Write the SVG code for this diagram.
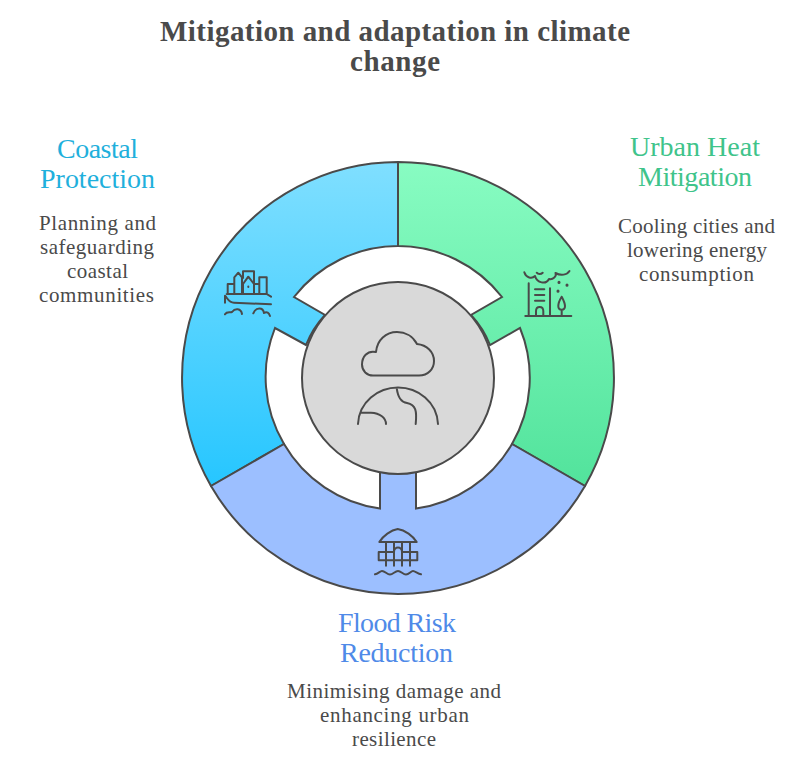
<svg xmlns="http://www.w3.org/2000/svg" width="786" height="772" viewBox="0 0 786 772">
<style>
.seg{stroke:#4a4a4a;stroke-width:2;stroke-linejoin:miter}
.ic{fill:none;stroke:#4a4a4a;stroke-width:2;stroke-linecap:round;stroke-linejoin:round}
text{font-family:"Liberation Serif","DejaVu Serif",serif;text-anchor:middle}
.t{font-size:29px;font-weight:700;fill:#4a4a4a}
.h{font-size:28px}
.b{font-size:21px;fill:#4a4a4a}
</style>
<defs>
<linearGradient id="gc" x1="0" y1="0" x2="0" y2="1"><stop offset="0" stop-color="#80dfff"/><stop offset="1" stop-color="#26c6ff"/></linearGradient>
<linearGradient id="gg" x1="0" y1="0" x2="0" y2="1"><stop offset="0" stop-color="#88fcc2"/><stop offset="1" stop-color="#52e39c"/></linearGradient>
</defs>
<rect width="786" height="772" fill="#fff"/>
<text class="t" x="395" y="41" textLength="470">Mitigation and adaptation in climate</text>
<text class="t" x="395" y="71" textLength="90">change</text>
<g id="connectors"></g>
<g id="coastal">
<path class="seg" fill="url(#gc)" d="M211 486A216 216 0 0 1 398 162V246A132 132 0 0 0 294 297L325 315A96 96 0 0 0 306 345L275 328A132 132 0 0 0 284 444Z"/>
<g class="ic">
<path d="M227.7 293.3V284H234.3M234.3 293.3V277.3L238.3 272.7L242 277.3V293.3M243 293.3V284L248.3 276.7L254 284V293.3M243 278V271.3H254V284M254 284H259.3M259.3 293.3V277.3H266.7V293.3M226.7 294H266.7L271 296.7"/>
<path d="M225 302.7V295.7C228 299 229 302.7 234 302.7L271 304.3"/>
<path d="M225 314.3C227 311 230 313 232 312C235 308 241 308 242 314M253.3 313.3C256 307 263 307 264 313C267 311 269 313 270 316"/>
<path d="M248.3 286.5v.5"/>
</g>
<text class="h" x="97.5" y="158" fill="#1fb0dc" textLength="81">Coastal</text>
<text class="h" x="97.5" y="188" fill="#1fb0dc" textLength="115">Protection</text>
<text class="b" x="97.5" y="230" textLength="117">Planning and</text>
<text class="b" x="97" y="254" textLength="114">safeguarding</text>
<text class="b" x="97.5" y="278" textLength="61">coastal</text>
<text class="b" x="96.5" y="302" textLength="115">communities</text>
</g>
<g id="urban">
<path class="seg" fill="url(#gg)" d="M398 162A216 216 0 0 1 585 486L512 444A132 132 0 0 0 520 328L490 345A96 96 0 0 0 471 315L502 297A132 132 0 0 0 398 246Z"/>
<g class="ic">
<path d="M525.3 316H571.3M528.7 283.3V316M550 288.3V316M536 316V311C536 305.5 543.3 305.5 543.3 311V316M535 289.3H544.3M535 295H544.3M535 300.7H544.3M561.7 316V310M561.7 296.7C559 301 558.3 304 558.3 306C558.3 311 565 311 565 306C565 304 564 301 561.7 296.7Z"/>
<path d="M524.3 272.3C526 278 532 279 535 276C537 283 546 285 549 279C553 280 557 276 555.5 273C561 276 567 275 569.5 271M536.7 272.7C538 274.5 541 274.5 542.7 272.7"/>
<path d="M559 282.3v.2M567 285v.2M558 291v.2" stroke-width="3"/>
</g>
<text class="h" x="695" y="156" fill="#3fc48b" textLength="130">Urban Heat</text>
<text class="h" x="695" y="186" fill="#3fc48b" textLength="114">Mitigation</text>
<text class="b" x="696.5" y="233" textLength="157">Cooling cities and</text>
<text class="b" x="697" y="257" textLength="140">lowering energy</text>
<text class="b" x="696.5" y="281" textLength="115">consumption</text>
</g>
<g id="flood">
<path class="seg" fill="#9cbfff" d="M585 486A216 216 0 0 1 211 486L284 444A132 132 0 0 0 380 508.5V472H416V508.5A132 132 0 0 0 512 444Z"/>
<g class="ic">
<path d="M379.3 542H416.7C413 536 405 530 397.7 529C391 530 383 536 379.3 542ZM386 542V565.7M394 542V565.7M402 542V565.7M410 542V565.7M378.7 552H394M402 552H417.3V560.3H402M394 560.3H378.7V552M394 560.3H402M394 552C394 546 402 546 402 552"/>
<path d="M375 574.3C378 574 380 571 382 571C385 571 387 574.5 390 574.5C393 574.5 395 571 398 571C401 571 403 574.5 406 574.5C409 574.5 411 571 413 571C415 571 418 574 421 574.3"/>
</g>
<text class="h" x="397" y="632" fill="#4f8ae8" textLength="118">Flood Risk</text>
<text class="h" x="396.5" y="662" fill="#4f8ae8" textLength="113">Reduction</text>
<text class="b" x="394" y="698" textLength="214">Minimising damage and</text>
<text class="b" x="394.5" y="722" textLength="149">enhancing urban</text>
<text class="b" x="394" y="746" textLength="84">resilience</text>
</g>
<g id="center">
<circle class="seg" cx="398" cy="378" r="96" fill="#d9d9d9"/>
<g class="ic">
<path d="M373 375.5H419C428 375.5 434 369 434 361C434 352 427 345 417 344C413 336 405 332 397 332C386 332 377 340 376 352C367 350 362 357 362 364.5C362 371 367 375.5 373 375.5Z"/>
<path d="M358 424C359 402 378 387.5 398 387.5C418 387.5 437 402 438 424M396.7 388C398 398 401 402 407 403C416 405 417 411 415.7 424M361 412.7H371C380 413 386 418 386 424"/>
</g>
</g>
</svg>
